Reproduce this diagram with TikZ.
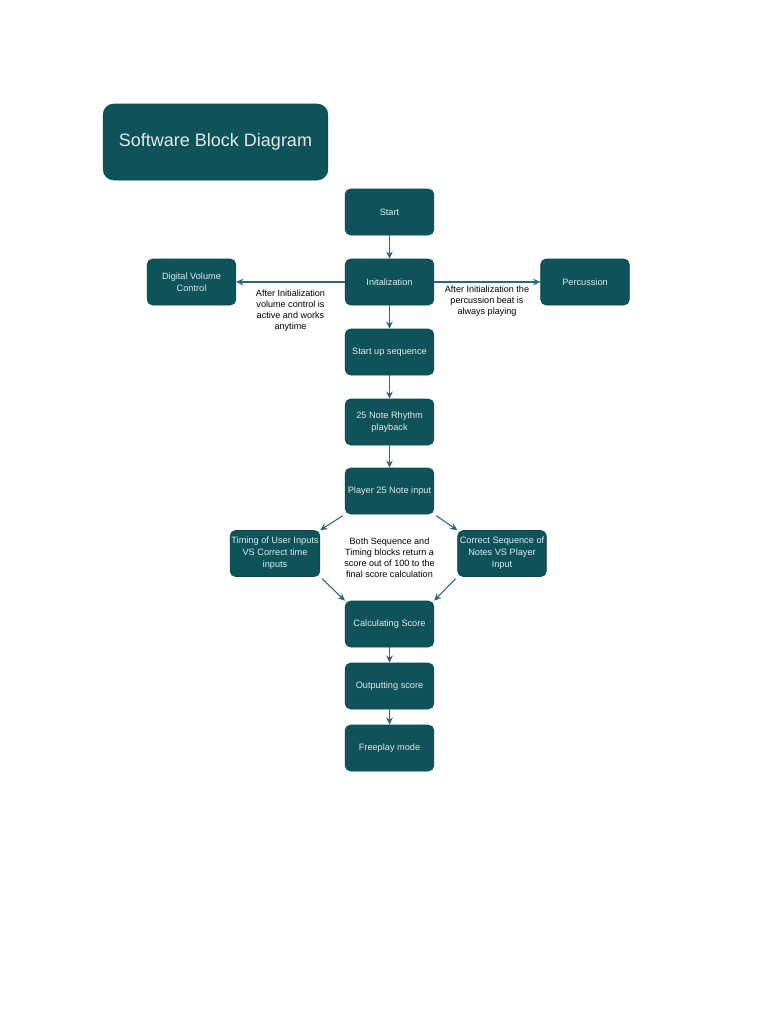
\documentclass[tikz,border=0pt]{standalone}
\usepackage{fontspec}
\setmainfont{Liberation Sans}
\definecolor{boxteal}{RGB}{13, 83, 89}
\definecolor{boxtext}{RGB}{226, 234, 234}
\definecolor{flowblue}{RGB}{47, 101, 132}
\usepackage{tikz}
\usetikzlibrary{arrows.meta, positioning}

\begin{document}
\begin{tikzpicture}[x=0.75pt, y=-0.75pt,
    block/.style={draw=boxteal!85!black, fill=boxteal, rounded corners=4pt, text=boxtext,
      minimum width=66.5pt, minimum height=34.5pt, align=center, inner sep=1pt,
      font=\fontsize{6.9}{9}\selectfont},
    note/.style={align=center, text=black, inner sep=1pt, font=\fontsize{6.8}{8.3}\selectfont},
    flow/.style={draw=flowblue, line width=0.8pt, -{Stealth[length=5.5pt, width=5pt]}}]
  \useasboundingbox[fill=white] (0,0) rectangle (768,1024);

  % Title
  \node[draw=boxteal!85!black, fill=boxteal, rounded corners=8pt, text=boxtext,
    minimum width=168.5pt, minimum height=57pt, font=\fontsize{13.5}{16}\selectfont] (title) at (215.5,142) {Software Block Diagram};

  % Main column
  \node[block] (start) at (389.5,212) {Start};
  \node[block] (init) at (389.5,282) {Initalization};
  \node[block] (volume) at (191.5,282) {Digital Volume\\Control};
  \node[block] (percussion) at (585,282) {Percussion};
  \node[block] (startup) at (389.5,352) {Start up sequence};
  \node[block] (rhythm) at (389.5,422) {25 Note Rhythm\\playback};
  \node[block] (playerin) at (389.5,491) {Player 25 Note input};

  % Checking blocks
  \node[block] (timing) at (275,553.5) {Timing of User Inputs\\VS Correct time\\inputs};
  \node[block] (sequence) at (502,553.5) {Correct Sequence of\\Notes VS Player\\Input};

  \node[block] (calc) at (389.5,624) {Calculating Score};
  \node[block] (output) at (389.5,686) {Outputting score};
  \node[block] (freeplay) at (389.5,748) {Freeplay mode};

  % Notes
  \node[note] (volnote) at (290.5,310.5) {After Initialization\\volume control is\\active and works\\anytime};
  \node[note] (percnote) at (487,301.5) {After Initialization the\\percussion beat is\\always playing};
  \node[note] (scorenote) at (389.5,557.5) {Both Sequence and\\Timing blocks return a\\score out of 100 to the\\final score calculation};

  % Connectors
  \draw[flow] (start) -- (init);
  \draw[flow] (init) -- (volume);
  \draw[flow] (init) -- (percussion);
  \draw[flow] (init) -- (startup);
  \draw[flow] (startup) -- (rhythm);
  \draw[flow] (rhythm) -- (playerin);
  \draw[flow, shorten <=2pt] (playerin.south west) -- (timing.north east);
  \draw[flow, shorten <=2pt] (playerin.south east) -- (sequence.north west);
  \draw[flow, shorten <=2pt] (timing.south east) -- (calc.north west);
  \draw[flow, shorten <=2pt] (sequence.south west) -- (calc.north east);
  \draw[flow] (calc) -- (output);
  \draw[flow] (output) -- (freeplay);
\end{tikzpicture}
\end{document}
